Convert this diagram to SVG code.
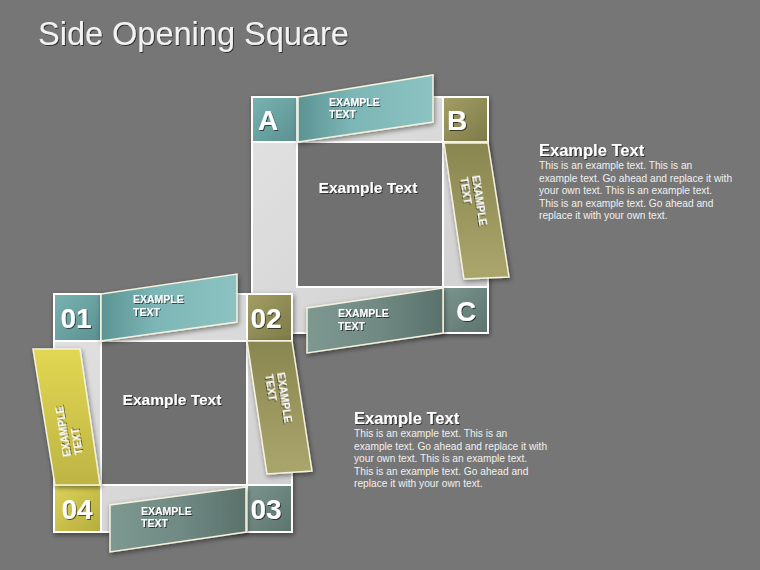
<svg xmlns="http://www.w3.org/2000/svg" width="760" height="570" viewBox="0 0 760 570">
<defs>
<filter id="sh" x="-20%" y="-20%" width="140%" height="140%"><feDropShadow dx="1" dy="2" stdDeviation="2.5" flood-color="#000" flood-opacity="0.45"/></filter>
<filter id="ts" x="-10%" y="-30%" width="120%" height="160%"><feDropShadow dx="1" dy="1" stdDeviation="0.6" flood-color="#000" flood-opacity="0.6"/></filter>
<linearGradient id="frame" x1="0" y1="0" x2="1" y2="1"><stop offset="0" stop-color="#e2e2e2"/><stop offset="1" stop-color="#cfcfcf"/></linearGradient>
<linearGradient id="teal" x1="0" y1="0" x2="1" y2="0"><stop offset="0" stop-color="#5b9393"/><stop offset="0.4" stop-color="#7db6b6"/><stop offset="1" stop-color="#8cc2c2"/></linearGradient>
<linearGradient id="tealCell" x1="0" y1="0" x2="1" y2="1"><stop offset="0" stop-color="#7ab2b2"/><stop offset="1" stop-color="#5a9090"/></linearGradient>
<linearGradient id="olive" x1="0" y1="0" x2="0" y2="1"><stop offset="0" stop-color="#8a8650"/><stop offset="1" stop-color="#aaa66c"/></linearGradient>
<linearGradient id="oliveCell" x1="0" y1="0" x2="1" y2="1"><stop offset="0" stop-color="#a29e64"/><stop offset="1" stop-color="#7f7b48"/></linearGradient>
<linearGradient id="sage" x1="0" y1="0" x2="1" y2="0"><stop offset="0" stop-color="#7d9891"/><stop offset="0.5" stop-color="#718b84"/><stop offset="1" stop-color="#5a716b"/></linearGradient>
<linearGradient id="sageCell" x1="0" y1="0" x2="1" y2="1"><stop offset="0" stop-color="#7b948e"/><stop offset="1" stop-color="#5d746e"/></linearGradient>
<linearGradient id="yellow" x1="0" y1="0" x2="0" y2="1"><stop offset="0" stop-color="#e2d752"/><stop offset="1" stop-color="#bdb444"/></linearGradient>
<linearGradient id="yellowCell" x1="0" y1="0" x2="1" y2="1"><stop offset="0" stop-color="#ddd35a"/><stop offset="1" stop-color="#b5ad3c"/></linearGradient>
</defs>
<style>
.fr{fill:url(#frame);stroke:#fff;stroke-width:2}
.in{fill:#6f6f6f;stroke:#fff;stroke-width:2}
.cell{stroke:#fff;stroke-width:2}
.rib{stroke:#f4f2dc;stroke-width:1.5}
.lbl{font-family:"Liberation Sans",Arial,sans-serif;font-weight:bold;font-size:28px;fill:#fff;text-anchor:middle}
.rt{font-family:"Liberation Sans",Arial,sans-serif;font-weight:bold;font-size:10.5px;fill:#fff}
.ct{font-family:"Liberation Sans",Arial,sans-serif;font-weight:bold;font-size:15.5px;fill:#fff;text-anchor:middle}
.hd{font-family:"Liberation Sans",Arial,sans-serif;font-weight:bold;font-size:16.5px;fill:#fff}
.bd{font-family:"Liberation Sans",Arial,sans-serif;font-size:10.2px;fill:#f0f0f0}
</style>
<rect width="760" height="570" fill="#767676"/>
<text id="title" x="38" y="45" font-family="Liberation Sans,Arial,sans-serif" font-size="32.5" fill="#f2f2f2" filter="url(#ts)">Side Opening Square</text>

<g id="upper-square" filter="url(#sh)">
<rect class="fr" x="252" y="97" width="236" height="236"/>
<rect class="in" x="297" y="142" width="146" height="145"/>
</g>
<g id="cell-A"><rect class="cell" x="252" y="97" width="45" height="45" fill="url(#tealCell)"/><text class="lbl" x="268" y="130" filter="url(#ts)">A</text></g>
<g id="cell-B"><rect class="cell" x="443" y="97" width="45" height="45" fill="url(#oliveCell)"/><text class="lbl" x="457" y="130" filter="url(#ts)">B</text></g>
<g id="cell-C"><rect class="cell" x="443" y="287" width="45" height="46" fill="url(#sageCell)"/><text class="lbl" x="466" y="321" filter="url(#ts)">C</text></g>
<g id="upper-center"><text class="ct" x="368" y="193" filter="url(#ts)">Example Text</text></g>

<g id="ribbon-A"><polygon class="rib" points="298,97 433,75 433,122 298,142" fill="url(#teal)" filter="url(#sh)"/><text class="rt" filter="url(#ts)"><tspan x="329" y="106">EXAMPLE</tspan><tspan x="329" y="118">TEXT</tspan></text></g>
<g id="ribbon-B"><polygon class="rib" points="444,143 488,143 509,277 464,279" fill="url(#olive)" filter="url(#sh)"/><text class="rt" transform="translate(472,176) rotate(81.5)" filter="url(#ts)"><tspan x="0" y="0">EXAMPLE</tspan><tspan x="0" y="12">TEXT</tspan></text></g>
<g id="ribbon-C"><polygon class="rib" points="443,288 443,333 307,353 307,308" fill="url(#sage)" filter="url(#sh)"/><text class="rt" filter="url(#ts)"><tspan x="338" y="317">EXAMPLE</tspan><tspan x="338" y="330">TEXT</tspan></text></g>

<g id="lower-square" filter="url(#sh)">
<rect class="fr" x="54" y="294" width="238" height="238"/>
<rect class="in" x="101" y="341" width="146" height="144"/>
</g>
<g id="cell-01"><rect class="cell" x="54" y="294" width="47" height="47" fill="url(#tealCell)"/><text class="lbl" x="76" y="328" filter="url(#ts)">01</text></g>
<g id="cell-02"><rect class="cell" x="247" y="294" width="45" height="47" fill="url(#oliveCell)"/><text class="lbl" x="266" y="328" filter="url(#ts)">02</text></g>
<g id="cell-03"><rect class="cell" x="247" y="485" width="45" height="47" fill="url(#sageCell)"/><text class="lbl" x="266" y="519" filter="url(#ts)">03</text></g>
<g id="cell-04"><rect class="cell" x="54" y="485" width="47" height="47" fill="url(#yellowCell)"/><text class="lbl" x="77" y="519" filter="url(#ts)">04</text></g>
<g id="lower-center"><text class="ct" x="172" y="405" filter="url(#ts)">Example Text</text></g>

<g id="ribbon-01"><polygon class="rib" points="101,294 237,274 237,322 101,341" fill="url(#teal)" filter="url(#sh)"/><text class="rt" filter="url(#ts)"><tspan x="133" y="303">EXAMPLE</tspan><tspan x="133" y="316">TEXT</tspan></text></g>
<g id="ribbon-02"><polygon class="rib" points="247,341 292,341 312,471 267,474" fill="url(#olive)" filter="url(#sh)"/><text class="rt" transform="translate(277,373) rotate(81.5)" filter="url(#ts)"><tspan x="0" y="0">EXAMPLE</tspan><tspan x="0" y="12">TEXT</tspan></text></g>
<g id="ribbon-03"><polygon class="rib" points="246,487 246,532 110,552 110,505" fill="url(#sage)" filter="url(#sh)"/><text class="rt" filter="url(#ts)"><tspan x="141" y="515">EXAMPLE</tspan><tspan x="141" y="527">TEXT</tspan></text></g>
<g id="ribbon-04"><polygon class="rib" points="33,349 80,349 100,485 55,485" fill="url(#yellow)" filter="url(#sh)"/><text class="rt" transform="translate(71,456) rotate(-99)" filter="url(#ts)"><tspan x="0" y="0">EXAMPLE</tspan><tspan x="0" y="12">TEXT</tspan></text></g>

<g id="text-block-1">
<text class="hd" x="539" y="156" filter="url(#ts)">Example Text</text>
<text class="bd"><tspan x="539" y="169">This is an example text. This is an</tspan><tspan x="539" y="181.5">example text.  Go ahead and replace it with</tspan><tspan x="539" y="194">your own text. This is an example text.</tspan><tspan x="539" y="206.5">This is an example text.  Go ahead and</tspan><tspan x="539" y="219">replace it with  your own text.</tspan></text>
</g>
<g id="text-block-2">
<text class="hd" x="354" y="424" filter="url(#ts)">Example Text</text>
<text class="bd"><tspan x="354" y="437">This is an example text. This is an</tspan><tspan x="354" y="449.5">example text.  Go ahead and replace it with</tspan><tspan x="354" y="462">your own text. This is an example text.</tspan><tspan x="354" y="474.5">This is an example text. Go ahead and</tspan><tspan x="354" y="487">replace it with your own text.</tspan></text>
</g>
<g id="connectors"/>
</svg>
